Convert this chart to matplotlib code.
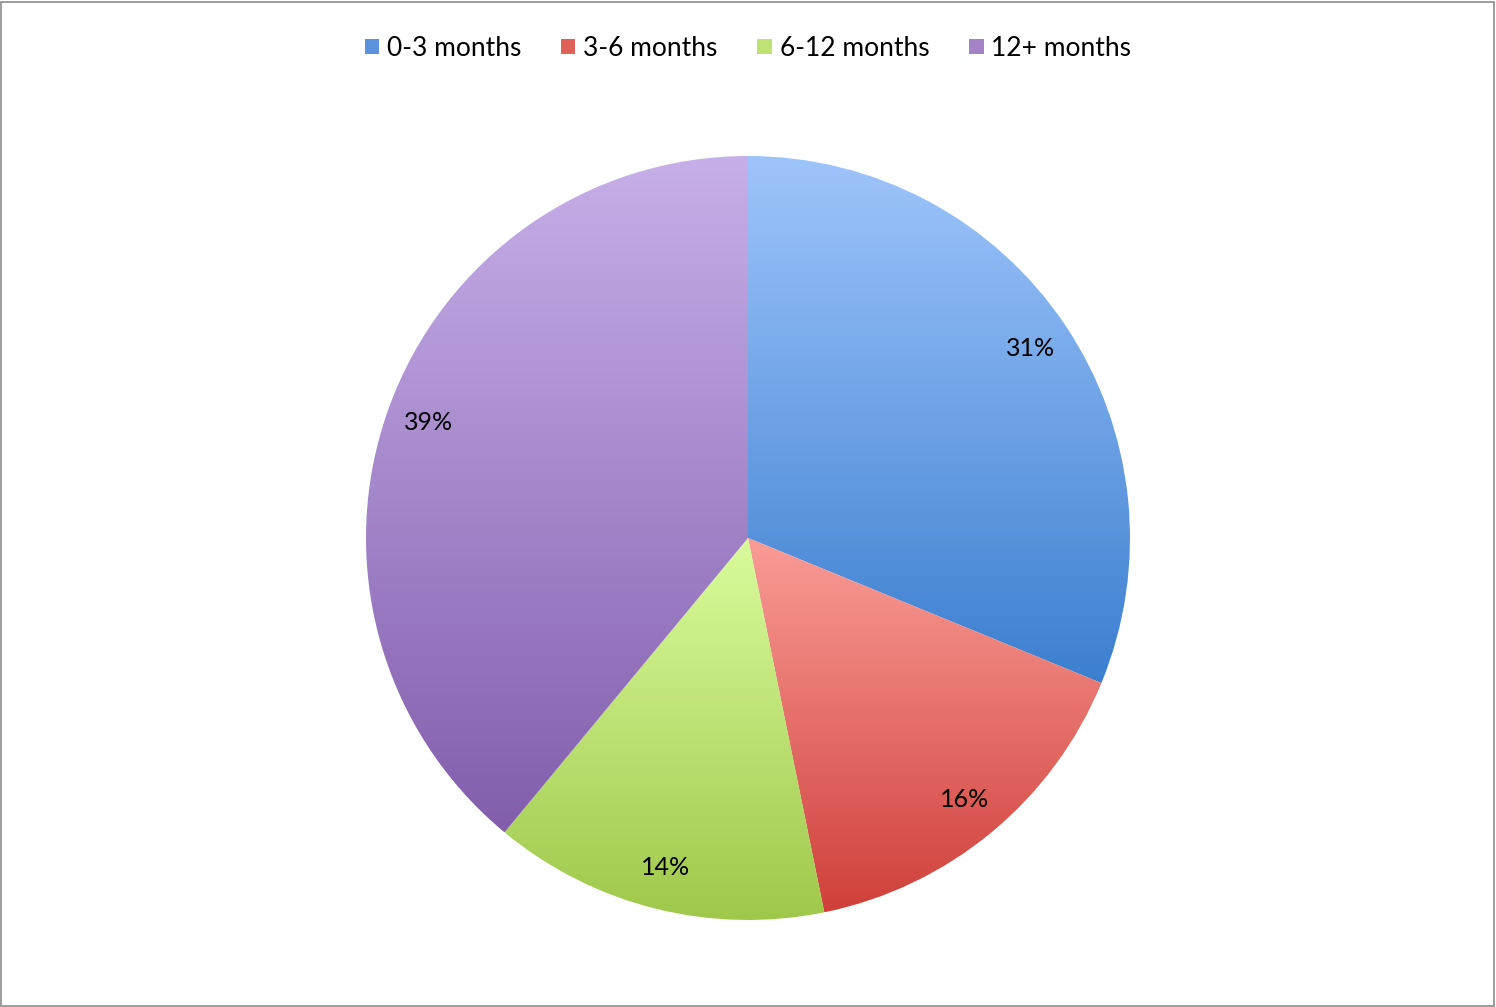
import numpy as np
import matplotlib
matplotlib.use("Agg")
import matplotlib.pyplot as plt
from matplotlib.colors import LinearSegmentedColormap
from matplotlib.patches import Patch, Rectangle

plt.rcParams['font.family'] = ['Lato', 'DejaVu Sans']

# data
labels = ['0-3 months', '3-6 months', '6-12 months', '12+ months']
shares = [31.2, 15.6, 14.2, 39.0]
# (top colour, bottom colour) of each slice's vertical gradient
top_colors = ['#9ec5fb', '#fa9c97', '#dafb9c', '#c7afe9']
bottom_colors = ['#3c7fd0', '#d0403a', '#9fc84b', '#825eac']
mid_colors = ['#5b93df', '#e0605a', '#bfe275', '#a382c8']

W, H = 1496, 1007
fig = plt.figure(figsize=(W / 100, H / 100), dpi=100)
ax = fig.add_axes([0, 0, 1, 1])
ax.set_xlim(0, W)
ax.set_ylim(0, H)
ax.axis('off')

wedges, texts, autotexts = ax.pie(
    shares, center=(748, H - 538), radius=382, startangle=90,
    counterclock=False, autopct='%.0f%%', pctdistance=0.89,
    wedgeprops=dict(linewidth=0), textprops=dict(fontsize=18, color='black'))

# fill each slice with a vertical gradient clipped to its shape
for w, c_top, c_bot in zip(wedges, top_colors, bottom_colors):
    w.set_facecolor('none')
    bb = w.get_path().get_extents(w.get_patch_transform())
    cmap = LinearSegmentedColormap.from_list('g', [c_bot, c_top])
    grad = np.linspace(0, 1, 256).reshape(-1, 1)
    im = ax.imshow(grad, cmap=cmap, origin='lower', aspect='auto',
                   extent=[bb.x0, bb.x1, bb.y0, bb.y1], zorder=1)
    im.set_clip_path(w)
for t in autotexts:
    t.set_zorder(3)
ax.set_xlim(0, W)
ax.set_ylim(0, H)

handles = [Patch(facecolor=c, edgecolor='none') for c in mid_colors]
fig.legend(handles, labels, loc='upper center', bbox_to_anchor=(0.5, 0.988),
           ncol=4, frameon=False, fontsize=19, handlelength=0.55, handleheight=0.55,
           handletextpad=0.3, columnspacing=1.5)

fig.patches.append(Rectangle((0.0005, 0.001), 0.998, 0.997, transform=fig.transFigure,
                             fill=False, edgecolor='#8c8c8c', linewidth=1.2))

fig.savefig('out.png', dpi=100)
